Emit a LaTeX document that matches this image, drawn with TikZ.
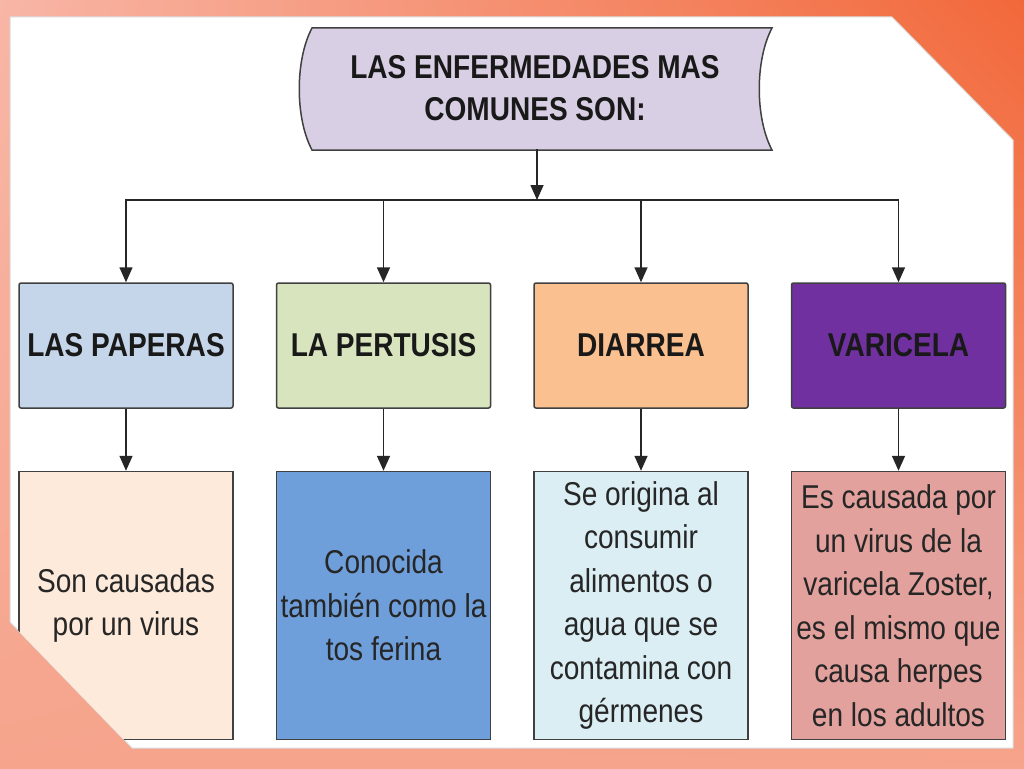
\documentclass[tikz,border=0pt]{standalone}
\usepackage{fontspec}
\setmainfont{Liberation Sans}[FakeStretch=0.85]
\usepackage{xcolor}
\usepackage{tikz}
\usetikzlibrary{shapes,arrows.meta,positioning,shadings}

\definecolor{bgpink}{HTML}{F8B6A6}
\definecolor{bgorange}{HTML}{F2683A}
\definecolor{bgsalmon}{HTML}{F6A48C}
\definecolor{banner}{HTML}{D8CFE4}
\definecolor{paperas}{HTML}{C6D6EA}
\definecolor{pertusis}{HTML}{D7E4BD}
\definecolor{diarrea}{HTML}{FAC08F}
\definecolor{varicela}{HTML}{7030A0}
\definecolor{descA}{HTML}{FDEADA}
\definecolor{descB}{HTML}{6F9FDB}
\definecolor{descC}{HTML}{DBEEF4}
\definecolor{descD}{HTML}{E2A19C}
\definecolor{boxline}{HTML}{404040}

\begin{document}
\begin{tikzpicture}[
    x=1pt, y=-1pt,
    node distance=62pt and 42pt,
    catbox/.style={rectangle, draw=boxline, line width=1.5pt, rounded corners=2pt, minimum width=214pt, minimum height=125pt, font=\bfseries\fontsize{33}{40}\selectfont, text=black!90},
    descbox/.style={rectangle, draw=boxline, line width=1.5pt, minimum width=214pt, minimum height=268pt, align=center, font=\fontsize{33}{43.5}\selectfont, text=black!85},
    link/.style={-{Triangle[length=15pt,width=13pt]}, line width=1.6pt, draw=black!85}
]
    \useasboundingbox (0,0) rectangle (1024,768);

    % Slide background and white card
    \shade[upper left=bgpink, upper right=bgorange, lower left=bgsalmon, lower right=bgsalmon] (0,0) rectangle (1024,768);
    \path[fill=white, draw=black!15, line width=1pt] (10,17) -- (892,17) -- (1013,140) -- (1013,748) -- (132,748) -- (10,622) -- cycle;

    \begin{scope}
    \clip (10,17) -- (892,17) -- (1013,140) -- (1013,748) -- (132,748) -- (10,622) -- cycle;

    % Title banner
    \draw[fill=banner, draw=boxline, line width=1.5pt] (312,28) -- (772,28) .. controls (755,60) and (755,118) .. (772,150) -- (312,150) .. controls (295,118) and (295,60) .. (312,28) -- cycle;
    \node[align=center, minimum height=122pt, font=\bfseries\fontsize{33}{42}\selectfont, text=black!90] (title) at (535,88) {LAS ENFERMEDADES MAS\\COMUNES SON:};
    \coordinate (junc) at (537,200);

    % Diseases
    \node[catbox, fill=paperas] (paperas) at (126,345.5) {LAS PAPERAS};
    \node[catbox, fill=pertusis, right=of paperas] (pertusis) {LA PERTUSIS};
    \node[catbox, fill=diarrea, right=of pertusis] (diarrea) {DIARREA};
    \node[catbox, fill=varicela, right=of diarrea] (varicela) {VARICELA};

    % Descriptions
    \node[descbox, fill=descA, below=of paperas] (paperasdesc) {Son causadas\\por un virus};
    \node[descbox, fill=descB, below=of pertusis] (pertusisdesc) {Conocida\\también como la\\tos ferina};
    \node[descbox, fill=descC, below=of diarrea] (diarreadesc) {Se origina al\\consumir\\alimentos o\\agua que se\\contamina con\\gérmenes};
    \node[descbox, fill=descD, below=of varicela] (varicelladesc) {Es causada por\\un virus de la\\varicela Zoster,\\es el mismo que\\causa herpes\\en los adultos};

    % Connectors
    \draw[link] (title.south -| junc) -- (junc);
    \draw[link] (junc) -| (paperas.north);
    \draw[link] (junc) -| (pertusis.north);
    \draw[link] (junc) -| (diarrea.north);
    \draw[link] (junc) -| (varicela.north);
    \draw[link] (paperas) -- (paperasdesc);
    \draw[link] (pertusis) -- (pertusisdesc);
    \draw[link] (diarrea) -- (diarreadesc);
    \draw[link] (varicela) -- (varicelladesc);
    \end{scope}
\end{tikzpicture}
\end{document}
